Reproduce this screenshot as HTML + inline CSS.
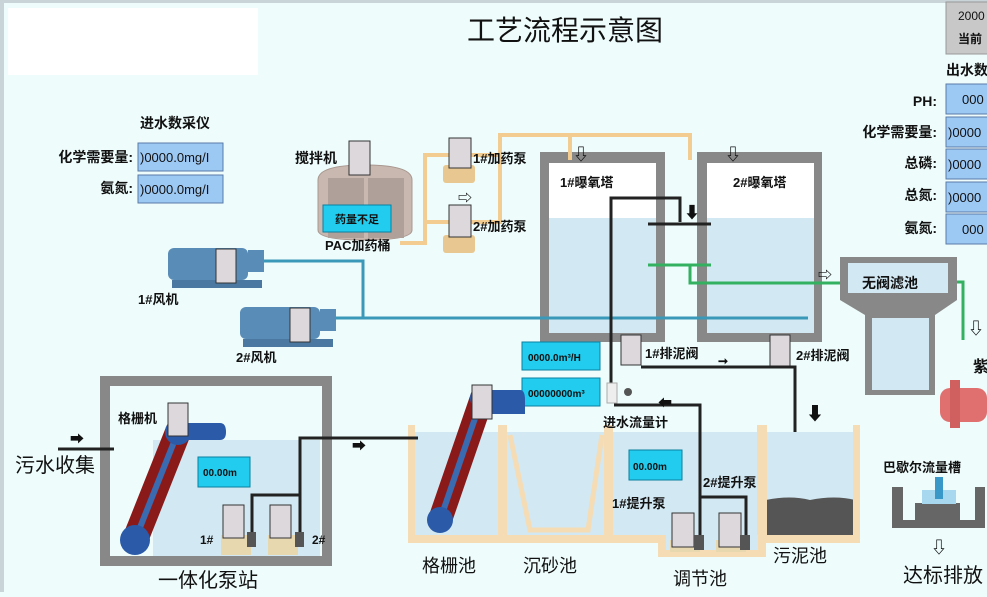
<!DOCTYPE html>
<html><head><meta charset="utf-8"><style>
body{margin:0;width:987px;height:592px;overflow:hidden;background:#eefcfc;font-family:"Liberation Sans","Noto Sans CJK SC",sans-serif}
svg text{font-family:"Liberation Sans","Noto Sans CJK SC",sans-serif;font-weight:bold;fill:#111}
svg text.n{font-weight:normal}
</style></head><body>
<svg width="987" height="592" xmlns="http://www.w3.org/2000/svg">
<rect x="0" y="0" width="987" height="592" fill="#eefcfc"/>
<rect x="0" y="0" width="987" height="3" fill="#c8d4d8"/>
<rect x="0" y="0" width="4" height="592" fill="#c8d4d8"/>
<rect x="8" y="8" width="250" height="67" fill="#fff"/>
<text class="n" x="565" y="40" font-size="28" text-anchor="middle">工艺流程示意图</text>
<!-- top right -->
<rect x="946" y="2" width="45" height="52" fill="#c8c8c8" stroke="#999"/>
<text class="n" x="958" y="20" font-size="12">2000</text>
<text x="958" y="43" font-size="12">当前</text>
<text x="946" y="75" font-size="14">出水数</text>
<g font-size="14">
<text x="937" y="106" text-anchor="end">PH:</text>
<text x="937" y="137" text-anchor="end">化学需要量:</text>
<text x="937" y="168" text-anchor="end">总磷:</text>
<text x="937" y="200" text-anchor="end">总氮:</text>
<text x="937" y="233" text-anchor="end">氨氮:</text>
</g>
<g fill="#9cc8f4" stroke="#5a7aa8">
<rect x="946" y="84" width="45" height="30"/><rect x="946" y="117" width="45" height="30"/><rect x="946" y="149" width="45" height="30"/><rect x="946" y="182" width="45" height="30"/><rect x="946" y="214" width="45" height="30"/>
</g>
<g font-size="13">
<text class="n" x="962" y="104">000</text><text class="n" x="948" y="137">)0000</text><text class="n" x="948" y="169">)0000</text><text class="n" x="948" y="202">)0000</text><text class="n" x="962" y="234">000</text>
</g>
<!-- left instrument -->
<text x="140" y="128" font-size="14">进水数采仪</text>
<text x="133" y="162" font-size="14" text-anchor="end">化学需要量:</text>
<text x="133" y="193" font-size="14" text-anchor="end">氨氮:</text>
<rect x="138" y="143" width="85" height="28" fill="#9cc8f4" stroke="#5a7aa8"/>
<rect x="138" y="175" width="85" height="28" fill="#9cc8f4" stroke="#5a7aa8"/>
<text class="n" x="140" y="162" font-size="13">)0000.0mg/I</text>
<text class="n" x="140" y="194" font-size="13">)0000.0mg/I</text>
<!-- pipes tan -->
<g stroke="#f2cc90" stroke-width="4" fill="none">
<path d="M400 243 H425 V155 H500 V135 H690 V160"/><path d="M425 222 H500 V155"/><path d="M570 135 V160"/>
</g>
<!-- mixer tank -->
<path d="M318 180 Q318 165 365 165 Q412 165 412 180 V230 Q412 240 365 240 Q318 240 318 230Z" fill="#c8b8b0" stroke="#a89890"/>
<rect x="328" y="178" width="36" height="60" fill="#b0a09a"/><rect x="368" y="178" width="36" height="60" fill="#b0a09a"/>
<rect x="323" y="205" width="68" height="27" fill="#22ccee" stroke="#0a80a0"/>
<text x="357" y="223" font-size="11" text-anchor="middle">药量不足</text>
<rect x="349" y="141" width="21" height="34" fill="#ddd8dc" stroke="#333"/>
<text x="295" y="163" font-size="14">搅拌机</text>
<text x="325" y="250" font-size="13">PAC加药桶</text>
<!-- dosing pumps -->
<rect x="443" y="165" width="32" height="18" fill="#e8c890" rx="3"/><rect x="449" y="138" width="22" height="30" fill="#ddd8dc" stroke="#333"/>
<rect x="443" y="235" width="32" height="18" fill="#e8c890" rx="3"/><rect x="449" y="205" width="22" height="32" fill="#ddd8dc" stroke="#333"/>
<text x="473" y="163" font-size="13">1#加药泵</text><text x="473" y="231" font-size="13">2#加药泵</text>
<text x="458" y="203" font-size="14" fill="#e0c080">⇨</text>
<!-- fans -->
<g fill="#5a8cb8">
<rect x="168" y="248" width="80" height="32" rx="6"/><rect x="172" y="280" width="90" height="8" fill="#4a78a0"/><rect x="248" y="250" width="16" height="22"/>
<rect x="240" y="307" width="80" height="32" rx="6"/><rect x="243" y="339" width="90" height="8" fill="#4a78a0"/><rect x="320" y="309" width="16" height="22"/>
</g>
<rect x="216" y="249" width="20" height="34" fill="#ddd8dc" stroke="#333"/>
<rect x="290" y="308" width="20" height="34" fill="#ddd8dc" stroke="#333"/>
<text x="138" y="304" font-size="13">1#风机</text><text x="236" y="362" font-size="13">2#风机</text>
<g stroke="#3a98b8" stroke-width="3" fill="none"><path d="M264 261 H363 V318"/><path d="M336 318 H808"/></g>
<!-- aeration towers -->
<rect x="540" y="152" width="125" height="190" fill="#888"/><rect x="549" y="163" width="107" height="170" fill="#fff"/><rect x="549" y="218" width="107" height="115" fill="#d2e8f2"/>
<rect x="697" y="152" width="125" height="190" fill="#888"/><rect x="707" y="163" width="107" height="170" fill="#fff"/><rect x="707" y="218" width="107" height="115" fill="#d2e8f2"/>
<g stroke="#f2cc90" stroke-width="4"><path d="M570 135 V160"/><path d="M690 135 V160"/></g>
<text x="560" y="187" font-size="13">1#曝氧塔</text><text x="733" y="187" font-size="13">2#曝氧塔</text>
<text x="573" y="160" font-size="16" fill="#e0c080">⇩</text><text x="725" y="160" font-size="16" fill="#e0c080">⇩</text>
<g stroke="#3a98b8" stroke-width="3"><path d="M540 318 H808"/></g>
<g stroke="#222" stroke-width="3" fill="none"><path d="M611 400 V198 H680 V222"/><path d="M648 224 H711"/></g>
<text x="684" y="218" font-size="16" fill="#555">⬇</text>
<g stroke="#33b060" stroke-width="3" fill="none"><path d="M648 265 H711"/><path d="M690 265 V283 H855"/><path d="M948 282 H963 V340"/></g>
<text x="818" y="280" font-size="14" fill="#33b060">⇨</text>
<!-- filter -->
<path d="M840 257 H957 V300 L935 315 V395 H865 V315 L840 300Z" fill="#888"/>
<rect x="848" y="263" width="100" height="30" fill="#d2e8f2"/><rect x="872" y="318" width="57" height="72" fill="#d2e8f2"/>
<text x="862" y="288" font-size="14">无阀滤池</text>
<text x="968" y="334" font-size="16" fill="#33b060">⇩</text>
<text x="973" y="372" font-size="16">紫</text>
<rect x="940" y="388" width="47" height="34" rx="10" fill="#e07070"/><rect x="950" y="380" width="10" height="48" fill="#d06060"/>
<!-- flow displays -->
<rect x="522" y="342" width="78" height="28" fill="#22ccee" stroke="#0a80a0"/><text x="528" y="361" font-size="10" fill="#136">0000.0m³/H</text>
<rect x="522" y="378" width="78" height="28" fill="#22ccee" stroke="#0a80a0"/><text x="528" y="397" font-size="10" fill="#136">00000000m³</text>
<!-- valves -->
<rect x="621" y="335" width="20" height="30" fill="#ddd8dc" stroke="#333"/><rect x="770" y="335" width="20" height="32" fill="#ddd8dc" stroke="#333"/>
<text x="645" y="358" font-size="13">1#排泥阀</text><text x="796" y="360" font-size="13">2#排泥阀</text>
<g stroke="#222" stroke-width="3" fill="none"><path d="M641 367 H795 V491"/></g>
<text x="718" y="365" font-size="12" fill="#666">➞</text>
<text x="806" y="420" font-size="18" fill="#555">⬇</text>
<!-- flow meter -->
<rect x="607" y="383" width="10" height="20" fill="#eee" stroke="#aaa"/><circle cx="628" cy="392" r="4" fill="#555"/>
<!-- pools -->
<rect x="412" y="432" width="444" height="104" fill="#d2e8f2"/>
<path d="M510 435 L530 530 L588 530 L602 435" fill="none" stroke="#f5dcb4" stroke-width="5"/>
<rect x="665" y="530" width="100" height="20" fill="#d2e8f2"/>
<path d="M766 500 Q790 495 810 500 Q835 495 855 500 V535 H766Z" fill="#555"/>
<g fill="#f5dcb4">
<rect x="408" y="425" width="7" height="118"/><rect x="498" y="425" width="9" height="110"/><rect x="604" y="425" width="9" height="110"/><rect x="757" y="425" width="10" height="110"/><rect x="853" y="425" width="7" height="118"/>
<rect x="408" y="535" width="258" height="8"/><rect x="758" y="535" width="102" height="8"/>
<rect x="658" y="535" width="8" height="22"/><rect x="758" y="535" width="8" height="22"/><rect x="658" y="550" width="108" height="7"/>
</g>
<text x="603" y="427" font-size="13">进水流量计</text>
<rect x="629" y="450" width="53" height="30" fill="#22ccee" stroke="#0a80a0"/><text x="633" y="470" font-size="10" fill="#136">00.00m</text>
<g stroke="#222" stroke-width="3" fill="none"><path d="M614 405 H700 V537"/><path d="M700 497 H746 V537"/></g>
<text x="658" y="408" font-size="14" fill="#555">⬅</text>
<text x="703" y="487" font-size="13">2#提升泵</text><text x="612" y="508" font-size="13">1#提升泵</text>
<rect x="670" y="540" width="30" height="12" fill="#e8d8b0"/><rect x="716" y="540" width="30" height="12" fill="#e8d8b0"/>
<rect x="672" y="513" width="22" height="34" fill="#ddd8dc" stroke="#333"/><rect x="719" y="513" width="22" height="34" fill="#ddd8dc" stroke="#333"/>
<rect x="694" y="535" width="10" height="15" fill="#555"/><rect x="740" y="535" width="10" height="15" fill="#555"/>
<text class="n" x="422" y="572" font-size="18">格栅池</text>
<text class="n" x="523" y="572" font-size="18">沉砂池</text>
<text class="n" x="673" y="585" font-size="18">调节池</text>
<text class="n" x="773" y="562" font-size="18">污泥池</text>
<!-- grating conveyor in pool -->
<line x1="440" y1="520" x2="482" y2="398" stroke="#8a1a1a" stroke-width="24" stroke-linecap="round"/>
<line x1="440" y1="520" x2="482" y2="398" stroke="#3a6ab0" stroke-width="6"/>
<path d="M488 390 H520 Q525 390 525 400 V414 H490Z" fill="#2a5aa8"/>
<circle cx="440" cy="520" r="13" fill="#2a5aa8"/><circle cx="482" cy="398" r="12" fill="#2a5aa8"/>
<rect x="472" y="385" width="20" height="34" fill="#ddd8dc" stroke="#333"/>
<!-- pump station -->
<rect x="100" y="376" width="232" height="190" fill="#888"/>
<rect x="110" y="386" width="212" height="170" fill="#eefcfc"/>
<rect x="153" y="440" width="167" height="116" fill="#d2e8f2"/>
<line x1="135" y1="540" x2="178" y2="432" stroke="#8a1a1a" stroke-width="26" stroke-linecap="round"/>
<line x1="135" y1="540" x2="178" y2="432" stroke="#3a6ab0" stroke-width="6"/>
<path d="M175 423 H220 Q226 423 226 432 Q226 440 220 440 H175Z" fill="#2a5aa8"/>
<circle cx="135" cy="540" r="15" fill="#2a5aa8"/><circle cx="178" cy="432" r="13" fill="#2a5aa8"/>
<rect x="168" y="403" width="20" height="33" fill="#ddd8dc" stroke="#333"/>
<text x="118" y="423" font-size="13">格栅机</text>
<rect x="198" y="457" width="52" height="30" fill="#22ccee" stroke="#0a80a0"/><text x="203" y="476" font-size="10" fill="#136">00.00m</text>
<g stroke="#222" stroke-width="3" fill="none"><path d="M300 535 V438 H418"/><path d="M252 535 V495 H300"/><path d="M58 449 H114"/></g>
<rect x="221" y="535" width="30" height="20" fill="#e8d8b0"/><rect x="268" y="535" width="30" height="20" fill="#e8d8b0"/>
<rect x="223" y="505" width="21" height="33" fill="#ddd8dc" stroke="#333"/><rect x="270" y="505" width="21" height="33" fill="#ddd8dc" stroke="#333"/>
<rect x="247" y="532" width="9" height="15" fill="#555"/><rect x="295" y="532" width="9" height="15" fill="#555"/>
<text x="200" y="544" font-size="12">1#</text><text x="312" y="544" font-size="12">2#</text>
<text class="n" x="158" y="587" font-size="20">一体化泵站</text>
<text class="n" x="15" y="472" font-size="20">污水收集</text>
<text x="70" y="444" font-size="14" fill="#777">➡</text><text x="352" y="451" font-size="14" fill="#777">➡</text>
<!-- parshall -->
<text x="883" y="472" font-size="13">巴歇尔流量槽</text>
<path d="M892 487 H903 V520 H915 V503 H960 V520 H975 V487 H985 V528 H892Z" fill="#666"/>
<rect x="922" y="490" width="34" height="14" fill="#a8d8f0"/><rect x="935" y="477" width="8" height="22" fill="#3a98c8"/>
<text x="931" y="553" font-size="16" fill="#33b060">⇩</text>
<text class="n" x="903" y="582" font-size="20">达标排放</text>
</svg>
</body></html>
